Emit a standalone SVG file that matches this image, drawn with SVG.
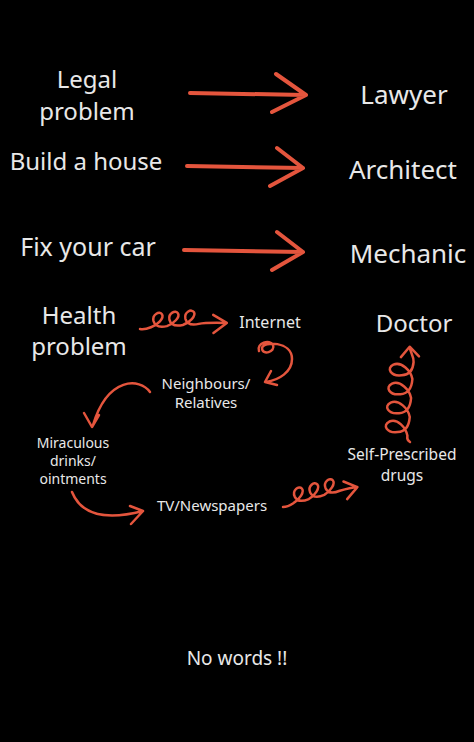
<svg xmlns="http://www.w3.org/2000/svg" width="474" height="742" viewBox="0 0 474 742">
<style>
text{font-family:"Noto Sans","Open Sans",sans-serif;fill:#e8e8e8;text-anchor:middle}
.big{font-size:24px}
.rt{font-size:26px}
.sm{font-size:15px}
.xs{font-size:14px}
.a{fill:none;stroke:#e4553d;stroke-linecap:round;stroke-linejoin:round}
.w4{stroke-width:4}
.w2{stroke-width:2.5}
</style>
<rect width="474" height="742" fill="#000"/>
<g id="legal"><text class="big" x="87" y="88">Legal</text><text class="big" x="87" y="120">problem</text></g>
<g id="house"><text class="big" x="86" y="170">Build a house</text></g>
<g id="car"><text class="big" x="88" y="256" style="font-size:25px">Fix your car</text></g>
<g id="lawyer"><text class="rt" x="404" y="104">Lawyer</text></g>
<g id="architect"><text class="rt" x="403" y="179">Architect</text></g>
<g id="mechanic"><text class="rt" x="408" y="263">Mechanic</text></g>
<g id="health"><text class="big" x="79" y="324">Health</text><text class="big" x="79" y="355">problem</text></g>
<g id="internet"><text class="sm" x="270" y="328" style="font-size:16px">Internet</text></g>
<g id="doctor"><text class="big" x="414" y="332">Doctor</text></g>
<g id="neighbours"><text class="sm" x="206" y="389">Neighbours/</text><text class="sm" x="206" y="408">Relatives</text></g>
<g id="miraculous"><text class="xs" x="73" y="448">Miraculous</text><text class="xs" x="73" y="466">drinks/</text><text class="xs" x="73" y="484">ointments</text></g>
<g id="tv"><text class="sm" x="212" y="511">TV/Newspapers</text></g>
<g id="self"><text class="sm" x="402" y="460" style="font-size:15.5px">Self-Prescribed</text><text class="sm" x="402" y="481" style="font-size:15.5px">drugs</text></g>
<g id="nowords"><text x="237" y="665" style="font-size:19px">No words !!</text></g>
<g id="connectors">
<path class="a w4" d="M190,93 L305,95 M276,74 L306,95 L272,112"/>
<path class="a w4" d="M187,166 L303,168 M277,148 L303,168 L270,186"/>
<path class="a w4" d="M184,250 L303,252 M277,232 L303,252 L272,270"/>
<g transform="translate(140,329) rotate(-4)">
<path class="a w2" d="M0,0 C4,1 8,0 11,-1 C18,-3 25,-9 23,-13 C21,-17 13,-14 14,-7 C15,-2 20,0 27,-1 C34,-3 41,-9 39,-13 C37,-17 29,-14 30,-7 C31,-2 36,0 43,-1 C50,-3 57,-9 55,-13 C53,-17 45,-14 46,-7 C47,-2 52,0 59,-1 C66,-2 76,-1 87,0 M74,-9 L87,0 L73,9"/>
</g>
<path class="a w2" d="M259,351 C256,343 270,339 273,345 C276,352 262,356 262,348 C263,341 292,341 292,359 C292,372 279,380 266,382 M271,371 L265,382 L277,385"/>
<path class="a w2" d="M150,392 C140,378 108,376 93,425 M84,413 L92,427 L99,415"/>
<path class="a w2" d="M72,492 C80,512 100,522 143,511 M130,506 L143,511 L131,524"/>
<g transform="translate(283,507) rotate(-15)">
<path class="a w2" d="M0,0 C4,1 8,0 11,-1 C18,-3 25,-9 23,-13 C21,-17 13,-14 14,-7 C15,-2 20,0 27,-1 C34,-3 41,-9 39,-13 C37,-17 29,-14 30,-7 C31,-2 36,0 43,-1 C50,-3 57,-9 55,-13 C53,-17 45,-14 46,-7 C47,-2 52,0 59,-1 C64,-1 70,-1 77,0 M65,-9 L77,0 L64,9"/>
</g>
<g transform="translate(410,442) rotate(-86)">
<path class="a w2" d="M0,0 C2,-4 4,-3 6,-3 C14,-5 23,-14 19,-22 C15,-29 7,-24 9,-13 C10,-5 16,-2 25,-2 C33,-4 42,-14 38,-22 C34,-29 26,-24 28,-13 C29,-5 35,-2 44,-2 C52,-4 61,-14 57,-22 C53,-29 45,-24 47,-13 C48,-5 54,-2 63,-2 C71,-4 80,-14 76,-22 C72,-29 64,-24 66,-13 C67,-5 73,-2 80,-2 C86,-2 89,-6 95,-7 M84,-15 L95,-7 L86,3"/>
</g>
</g>
</svg>
